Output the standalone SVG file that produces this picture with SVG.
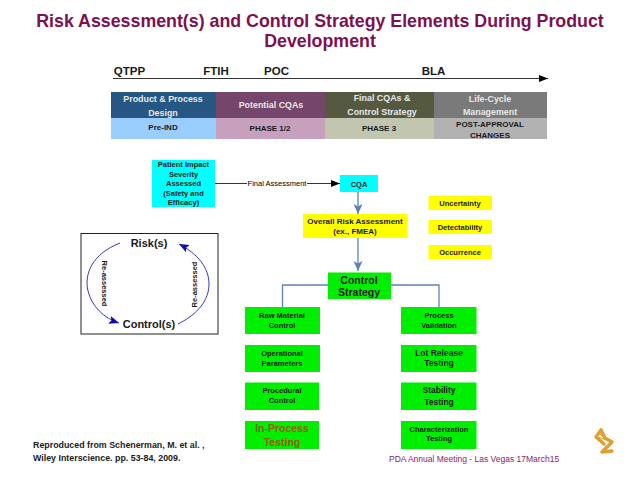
<svg xmlns="http://www.w3.org/2000/svg" width="638" height="479" viewBox="0 0 638 479">
<style>
text{font-family:"Liberation Sans",Arial,sans-serif;font-weight:bold;text-anchor:middle;fill:#1a1a1a}
.t7{font-size:7.5px}.t8{font-size:8px}.t11{font-size:11px}
.w{fill:#e8e8e8;font-size:8.900px}
.g{fill:#00ee00}.c{fill:#00ffff}.y{fill:#ffff00}
.bl{fill:none;stroke:#5b82b8;stroke-width:1.300}
.title{font-size:17.800px;fill:#7d1150}
.cit{font-size:8.850px;text-anchor:start}
.ip{font-size:10.500px;fill:#9a5a00}
</style>
<defs>
<marker id="ab" markerWidth="9" markerHeight="11" refX="4.500" refY="10" orient="0" markerUnits="userSpaceOnUse"><path d="M0 0L4.500 2.500L9 0L4.500 10z" fill="#5b82b8"/></marker>
<marker id="ak" markerWidth="10" markerHeight="8" refX="9" refY="3.500" orient="auto" markerUnits="userSpaceOnUse"><path d="M0 0L9 3.500L0 7z" fill="#000"/></marker>
<marker id="an" markerWidth="11" markerHeight="9" refX="10" refY="4" orient="auto" markerUnits="userSpaceOnUse"><path d="M0 0L10 4L0 8L2 4z" fill="#0808c0"/></marker>
</defs>
<rect width="638" height="479" fill="#fff"/>
<g id="title">
<text class="title" x="320" y="27">Risk Assessment(s) and Control Strategy Elements During Product</text>
<text class="title" x="320" y="47">Development</text>
</g>
<g id="timeline" font-size="11.500">
<path d="M113 78.500H548" stroke="#000" stroke-width="0.800" marker-end="url(#ak)"/>
<text x="129.500" y="75">QTPP</text><text x="216" y="75">FTIH</text><text x="276.500" y="75">POC</text><text x="433.500" y="75">BLA</text>
</g>
<g id="phase-design"><rect x="111" y="92" width="105" height="26" fill="#265682"/><rect x="111" y="118" width="105" height="21" fill="#99ccff"/>
<text class="w" x="163" y="101.500">Product &amp; Process</text><text class="w" x="163" y="115.500">Design</text><text class="t8" x="163" y="130">Pre-IND</text></g>
<g id="phase-potential"><rect x="216" y="92" width="109" height="26" fill="#76456b"/><rect x="216" y="118" width="109" height="21" fill="#c6a0bd"/>
<text class="w" x="271" y="108">Potential CQAs</text><text class="t8" x="270" y="131">PHASE 1/2</text></g>
<g id="phase-final"><rect x="325" y="92" width="109" height="26" fill="#545940"/><rect x="325" y="118" width="109" height="21" fill="#c2c6b0"/>
<text class="w" x="382" y="100.500">Final CQAs &amp;</text><text class="w" x="382" y="114.500">Control Strategy</text><text class="t8" x="379" y="131">PHASE 3</text></g>
<g id="phase-lifecycle"><rect x="434" y="92" width="113" height="26" fill="#7a7a7a"/><rect x="434" y="118" width="113" height="21" fill="#b2b2b2"/>
<text class="w" x="490" y="101.500">Life-Cycle</text><text class="w" x="490" y="115">Management</text><text class="t8" x="490" y="127">POST-APPROVAL</text><text class="t8" x="490" y="137.500">CHANGES</text></g>
<g id="connectors">
<path d="M215 183.500H247M307 183.500H340" stroke="#000" stroke-width="0.800" marker-end="url(#ak)"/>
<path class="bl" d="M358 192V214" marker-end="url(#ab)"/>
<path class="bl" d="M358 238V271" marker-end="url(#ab)"/>
<path class="bl" d="M328 285H282.500V307"/>
<path class="bl" d="M391 285H439V307"/>
</g>
<text id="lbl-final" class="t7" x="277" y="186" style="font-weight:normal;fill:#000">Final Assessment</text>
<g id="patient"><rect class="c" x="152" y="160" width="63" height="47"/>
<text class="t7" x="183.500" y="167">Patient Impact</text><text class="t7" x="183.500" y="176.500">Severity</text><text class="t7" x="183.500" y="186">Assessed</text><text class="t7" x="183.500" y="195.500">(Safety and</text><text class="t7" x="183.500" y="205">Efficacy)</text></g>
<g id="cqa"><rect class="c" x="340" y="175" width="38" height="17"/><text class="t7" x="359" y="186.500">CQA</text></g>
<g id="overall"><rect class="y" x="303" y="214" width="104.500" height="24"/><text class="t8" x="355" y="224">Overall Risk Assessment</text><text class="t8" x="355" y="233.500">(ex., FMEA)</text></g>
<g id="uncertainty"><rect class="y" x="428.500" y="196" width="63.500" height="14"/><text class="t7" x="460" y="205.500">Uncertainty</text></g>
<g id="detectability"><rect class="y" x="428.500" y="220" width="63.500" height="14"/><text class="t7" x="460" y="229.500">Detectability</text></g>
<g id="occurrence"><rect class="y" x="428.500" y="245" width="63.500" height="14"/><text class="t7" x="460" y="254.500">Occurrence</text></g>
<g id="control-strategy"><rect class="g" x="328" y="272.500" width="63" height="26.500"/><text x="359" y="283.500" font-size="10.500">Control</text><text x="359" y="296" font-size="10.500">Strategy</text></g>
<g id="raw"><rect class="g" x="245" y="307" width="75" height="27"/><text class="t7" x="282" y="318">Raw Material</text><text class="t7" x="282" y="328">Control</text></g>
<g id="operational"><rect class="g" x="245" y="345" width="75" height="27"/><text class="t7" x="282" y="356">Operational</text><text class="t7" x="282" y="366">Parameters</text></g>
<g id="procedural"><rect class="g" x="245" y="382.500" width="74" height="27.500"/><text class="t7" x="282" y="393">Procedural</text><text class="t7" x="282" y="403">Control</text></g>
<g id="inprocess"><rect class="g" x="245" y="421" width="74" height="28"/><text class="ip" x="282" y="432">In-Process</text><text class="ip" x="282" y="446">Testing</text></g>
<g id="validation"><rect class="g" x="401" y="307" width="75.500" height="27"/><text class="t7" x="439" y="318">Process</text><text class="t7" x="439" y="328">Validation</text></g>
<g id="lot"><rect class="g" x="401" y="345" width="75.500" height="27"/><text x="439" y="356" font-size="8.500">Lot Release</text><text x="439" y="366" font-size="8.500">Testing</text></g>
<g id="stability"><rect class="g" x="401" y="382.500" width="75.500" height="27.500"/><text x="439" y="393" font-size="8.500">Stability</text><text x="439" y="405" font-size="8.500">Testing</text></g>
<g id="characterization"><rect class="g" x="401" y="421" width="75.500" height="28"/><text class="t7" x="439" y="432">Characterization</text><text class="t7" x="439" y="441">Testing</text></g>
<g id="loop">
<rect x="81" y="233.500" width="137" height="100.500" fill="#fff" stroke="#222" stroke-width="1"/>
<text class="t11" x="149" y="247">Risk(s)</text><text class="t11" x="149" y="328">Control(s)</text>
<path d="M120 243C92 254 84 274 88 291C92 307 104 318 119 323" fill="none" stroke="#0808a0" stroke-width="0.800" marker-end="url(#an)"/>
<path d="M178 324C198 314 209 300 209 284C209 268 198 254 179 244" fill="none" stroke="#0808a0" stroke-width="0.800" marker-end="url(#an)"/>
<text class="t7" transform="translate(102 283.500) rotate(90)">Re-assessed</text>
<text class="t7" transform="translate(197 284.500) rotate(-90)">Re-assessed</text>
</g>
<g id="citation">
<text class="cit" x="33" y="448">Reproduced from Schenerman, M. et al. ,</text>
<text class="cit" x="33" y="461">Wiley Interscience. pp. 53-84, 2009.</text>
</g>
<text id="footer" x="389" y="462" font-size="8.500" style="text-anchor:start;font-weight:normal;fill:#8a1a70">PDA Annual Meeting - Las Vegas 17March15</text>
<g id="logo" fill="none" stroke="#e0a030" stroke-linejoin="round" stroke-linecap="round">
<path stroke-width="3.500" d="M601 430L596 437L604 444"/>
<path stroke-width="3.500" d="M601 430L605 438L612 442L602 452L612 451"/>
<path stroke-width="1" d="M598 437L606 440M600 434L606 440"/>
</g>
</svg>
